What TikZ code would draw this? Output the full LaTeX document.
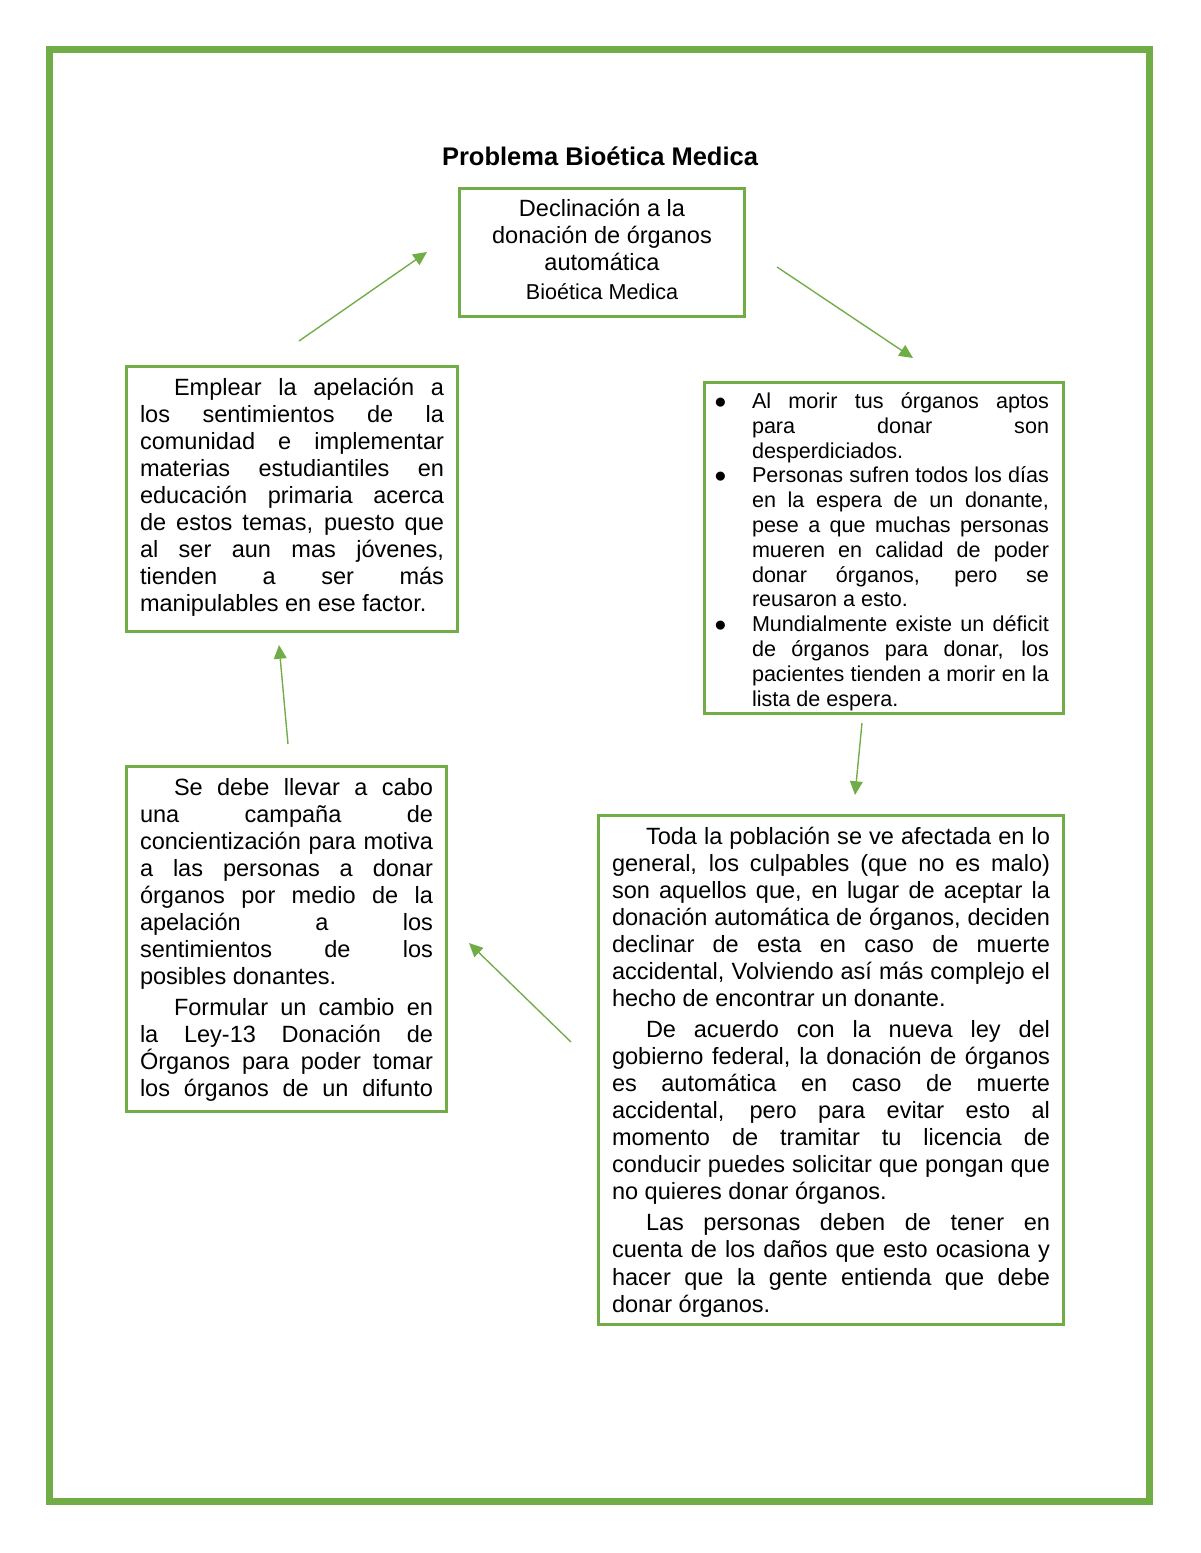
\documentclass[tikz,border=0pt]{standalone}
\usepackage{fontspec}
\setmainfont{Liberation Sans}
\usetikzlibrary{arrows.meta}

\definecolor{verde}{RGB}{112,173,71}
\newdimen\px \px=0.51pt
\newcommand{\cuerpo}[3]{%
  \parbox[c][#1\px][t]{#2\px}{\fontsize{12}{13.8}\selectfont
    \hyphenpenalty=10000 \exhyphenpenalty=10000 \tolerance=10000
    \parindent=34\px \parskip=4\px
    \leftskip=13.5\px \rightskip=13.5\px
    \vspace*{5.6\px}\strut #3\par}}
\newcommand{\vineta}{\strut\llap{\makebox[0pt]{\fontsize{13}{13}\selectfont$\bullet$}\hspace{31.5\px}}}

\begin{document}
\begin{tikzpicture}[x=0.51pt, y=-0.51pt, >={Triangle[length=7pt,width=6.5pt]}]

        \tikzstyle{caja}=[draw=verde, line width=1.5pt, inner sep=0pt, outer sep=0pt, anchor=north west]
        \tikzstyle{flecha}=[->, color=verde, line width=0.7pt]

        \useasboundingbox (0,0) rectangle (1200,1553);
        \draw[verde, line width=3.6pt] (49.5,49.5) rectangle (1149.5,1501.5);

        \node (titulo) at (600,156) {\fontsize{13}{15}\selectfont\bfseries Problema Bioética Medica};

        \node[caja] (0) at (459.5,188.5) {\parbox[c][128\px][t]{285\px}{\centering
          \fontsize{12}{14}\selectfont\vspace*{8.3\px}\strut
          Declinación a la\\donación de órganos\\automática\par
          \fontsize{11}{14.5}\selectfont Bioética Medica\par}};

        \node[caja] (1) at (704.5,382.5) {\parbox[c][331\px][t]{359\px}{%
          \fontsize{11}{12.65}\selectfont
          \hyphenpenalty=10000 \tolerance=10000 \parindent=0pt
          \leftskip=47.5\px \rightskip=14.5\px
          \vspace*{8.6\px}
          \vineta Al morir tus órganos aptos \linebreak para donar son \linebreak desperdiciados.\par
          \vineta Personas sufren todos los días \linebreak en la espera de un donante, \linebreak pese a que muchas personas \linebreak mueren en calidad de poder \linebreak donar órganos, pero se \linebreak reusaron a esto.\par
          \vineta Mundialmente existe un déficit \linebreak de órganos para donar, los \linebreak pacientes tienden a morir en la \linebreak lista de espera.\par}};

        \node[caja] (2) at (598.5,815.5) {\cuerpo{509}{465}{%
          Toda la población se ve afectada en lo \linebreak general, los culpables (que no es malo) \linebreak son aquellos que, en lugar de aceptar la \linebreak donación automática de órganos, deciden \linebreak declinar de esta en caso de muerte \linebreak accidental, Volviendo así más complejo el \linebreak hecho de encontrar un donante.\par
          De acuerdo con la nueva ley del \linebreak gobierno federal, la donación de órganos \linebreak es automática en caso de muerte \linebreak accidental, pero para evitar esto al \linebreak momento de tramitar tu licencia de \linebreak conducir puedes solicitar que pongan que \linebreak no quieres donar órganos.\par
          Las personas deben de tener en \linebreak cuenta de los daños que esto ocasiona y \linebreak hacer que la gente entienda que debe \linebreak donar órganos.}};

        \node[caja] (3) at (126.5,766.5) {\cuerpo{345}{320}{%
          Se debe llevar a cabo \linebreak una campaña de \linebreak concientización para motiva \linebreak a las personas a donar \linebreak órganos por medio de la \linebreak apelación a los \linebreak sentimientos de los \linebreak posibles donantes.\par
          Formular un cambio en \linebreak la Ley-13 Donación de \linebreak Órganos para poder tomar \linebreak los órganos de un difunto\parfillskip=0pt}};

        \node[caja] (4) at (126.5,366.5) {\cuerpo{265}{331}{%
          Emplear la apelación a \linebreak los sentimientos de la \linebreak comunidad e implementar \linebreak materias estudiantiles en \linebreak educación primaria acerca \linebreak de estos temas, puesto que \linebreak al ser aun mas jóvenes, \linebreak tienden a ser más \linebreak manipulables en ese factor.}};

        \coordinate (40a) at (299,341);
        \coordinate (40b) at (427,252);
        \coordinate (01a) at (777,267);
        \coordinate (01b) at (913,358);
        \coordinate (12a) at (862,723);
        \coordinate (12b) at (855,795);
        \coordinate (23a) at (571,1042);
        \coordinate (23b) at (469,943);
        \coordinate (34a) at (288,744);
        \coordinate (34b) at (279,645);

        \path[flecha] (40a) edge (40b)
        (01a) edge (01b)
        (12a) edge (12b)
        (23a) edge (23b)
        (34a) edge (34b)
    ;
    \end{tikzpicture}
\end{document}
